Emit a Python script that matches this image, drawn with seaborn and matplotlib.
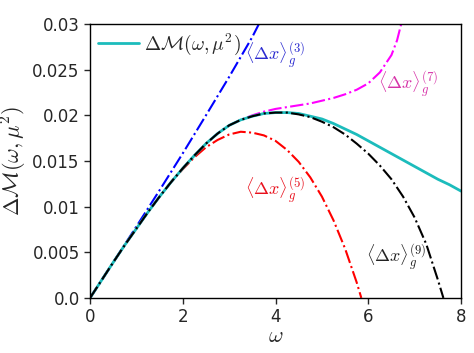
import matplotlib
matplotlib.use("Agg")
import matplotlib.pyplot as plt
import seaborn as sns
import pandas as pd

# ---- data ----
w_exact = [0, 0.25, 0.5, 0.75, 1.0, 1.25, 1.5, 1.75, 2.0, 2.25, 2.5, 2.75, 3.0, 3.25,
           3.5, 3.75, 4.0, 4.25, 4.5, 4.75, 5.0, 5.25, 5.5, 5.75, 6.0, 6.25, 6.5,
           6.75, 7.0, 7.25, 7.5, 7.75, 8.0]
m_exact = [0, 0.00195, 0.0039, 0.0058, 0.0076, 0.0094, 0.0111, 0.0127, 0.0142, 0.0156,
           0.0169, 0.0180, 0.0189, 0.0195, 0.0199, 0.0202, 0.0203, 0.0203, 0.0202,
           0.0199, 0.0196, 0.0191, 0.0185, 0.0179, 0.0172, 0.0165, 0.0158, 0.0151,
           0.0144, 0.0137, 0.0130, 0.0124, 0.0117]

w_g3 = [0, 0.5, 1, 1.5, 2, 2.5, 3, 3.5, 3.75]
m_g3 = [0, 0.0039, 0.00783, 0.0118, 0.01584, 0.0200, 0.02421, 0.02859, 0.03108]

w_g5 = [0, 0.25, 0.5, 0.75, 1.0, 1.25, 1.5, 1.75, 2.0, 2.25, 2.5, 2.75, 3.0, 3.25,
        3.5, 3.75, 4.0, 4.25, 4.5, 4.75, 5.0, 5.25, 5.5, 5.75, 5.85]
m_g5 = [0, 0.00195, 0.0039, 0.0058, 0.0076, 0.0094, 0.0111, 0.0127, 0.0141, 0.0154,
        0.0165, 0.0173, 0.0179, 0.0182, 0.0181, 0.0178, 0.0172, 0.0162, 0.0149,
        0.0132, 0.0111, 0.0085, 0.0054, 0.0017, 0.0]

w_g7 = [0, 0.25, 0.5, 0.75, 1.0, 1.25, 1.5, 1.75, 2.0, 2.25, 2.5, 2.75, 3.0, 3.25,
        3.5, 3.75, 4.0, 4.25, 4.5, 4.75, 5.0, 5.25, 5.5, 5.75, 6.0, 6.25, 6.5,
        6.62, 6.72]
m_g7 = [0, 0.00195, 0.0039, 0.0058, 0.0076, 0.0094, 0.0111, 0.0127, 0.0142, 0.0156,
        0.0169, 0.0180, 0.0189, 0.0195, 0.0200, 0.0204, 0.0207, 0.0209, 0.0211,
        0.0213, 0.0216, 0.0219, 0.0223, 0.0228, 0.0235, 0.0247, 0.0266, 0.0282,
        0.0302]

w_g9 = [0, 0.25, 0.5, 0.75, 1.0, 1.25, 1.5, 1.75, 2.0, 2.25, 2.5, 2.75, 3.0, 3.25,
        3.5, 3.75, 4.0, 4.25, 4.5, 4.75, 5.0, 5.25, 5.5, 5.75, 6.0, 6.25, 6.5,
        6.75, 7.0, 7.25, 7.5, 7.62]
m_g9 = [0, 0.00195, 0.0039, 0.0058, 0.0076, 0.0094, 0.0111, 0.0127, 0.0142, 0.0156,
        0.0169, 0.0180, 0.0189, 0.0195, 0.0199, 0.0202, 0.0203, 0.0203, 0.0201,
        0.0198, 0.0193, 0.0187, 0.0179, 0.0169, 0.0158, 0.0145, 0.0130, 0.0111,
        0.0088, 0.0059, 0.0020, 0.0]

x_ticks = [0, 2, 4, 6, 8]
y_ticks = [0.0, 0.005, 0.01, 0.015, 0.02, 0.025, 0.03]
y_tick_labels = ["0.0", "0.005", "0.01", "0.015", "0.02", "0.025", "0.03"]

sns.set_style("ticks")
plt.rcParams["font.family"] = ["DejaVu Sans"]
plt.rcParams["mathtext.fontset"] = "cm"

fig = plt.figure(figsize=(4.74, 3.53), dpi=100)
ax = fig.add_axes([0.19, 0.156, 0.7826, 0.776])

df_exact = pd.DataFrame({"w": w_exact, "m": m_exact})
df3 = pd.DataFrame({"w": w_g3, "m": m_g3})
df5 = pd.DataFrame({"w": w_g5, "m": m_g5})
df7 = pd.DataFrame({"w": w_g7, "m": m_g7})
df9 = pd.DataFrame({"w": w_g9, "m": m_g9})

sns.lineplot(data=df3, x="w", y="m", ax=ax, color="#0000ff", lw=1.5,
             linestyle="-.", sort=False, estimator=None)
sns.lineplot(data=df7, x="w", y="m", ax=ax, color="#ff00ff", lw=1.5,
             linestyle="-.", sort=False, estimator=None)
sns.lineplot(data=df5, x="w", y="m", ax=ax, color="#ff0000", lw=1.5,
             linestyle="-.", sort=False, estimator=None)
sns.lineplot(data=df_exact, x="w", y="m", ax=ax, color="#1cbcbc", lw=2.0,
             sort=False, estimator=None, label=r"$\Delta\mathcal{M}(\omega,\mu^2)$")
sns.lineplot(data=df9, x="w", y="m", ax=ax, color="black", lw=1.5,
             linestyle="-.", sort=False, estimator=None)

ax.set_xlim(0, 8)
ax.set_ylim(0, 0.03)
ax.set_xticks(x_ticks)
ax.set_xticklabels([str(t) for t in x_ticks])
ax.set_yticks(y_ticks)
ax.set_yticklabels(y_tick_labels)
ax.tick_params(labelsize=12, direction="out", length=4, width=1)
for s in ax.spines.values():
    s.set_visible(True)
    s.set_linewidth(1.0)
    s.set_color("black")

ax.set_xlabel(r"$\omega$", fontsize=16, labelpad=0)
ax.set_ylabel(r"$\Delta\mathcal{M}(\omega,\mu^2)$", fontsize=16, labelpad=2)

ax.text(3.99, 0.0266, r"$\langle\Delta x\rangle_g^{(3)}$", color="#2a2ad0",
        fontsize=13, ha="center", va="center")
ax.text(6.86, 0.0234, r"$\langle\Delta x\rangle_g^{(7)}$", color="#d633a8",
        fontsize=13, ha="center", va="center")
ax.text(3.99, 0.0118, r"$\langle\Delta x\rangle_g^{(5)}$", color="#e8101c",
        fontsize=13, ha="center", va="center")
ax.text(6.6, 0.0044, r"$\langle\Delta x\rangle_g^{(9)}$", color="#222222",
        fontsize=13, ha="center", va="center")

leg = ax.legend(loc="upper left", fontsize=14, frameon=False,
                handlelength=2.1, borderaxespad=0.0, borderpad=0.4,
                handletextpad=0.25)

fig.savefig("out.png", dpi=100)
